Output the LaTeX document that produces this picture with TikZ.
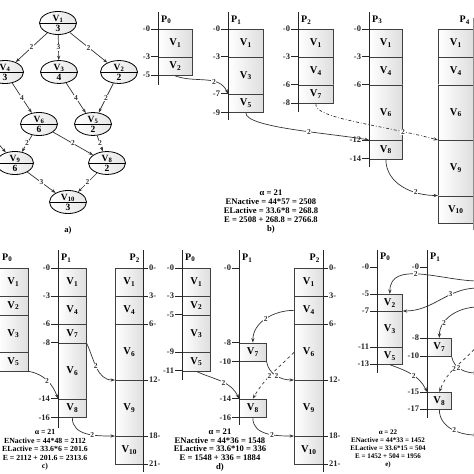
\documentclass[tikz,border=0pt]{standalone}
\usepackage{fontspec}
\setmainfont{Liberation Serif}
\usetikzlibrary{shapes.geometric,arrows.meta}

\begin{document}
\begin{tikzpicture}[x=1pt,y=1pt,>={Stealth[length=4.5pt,width=3.2pt]},
    slot/.style={draw=black!75,line width=0.7pt,left color=white,right color=black!13,inner sep=0pt,anchor=north west,font=\fontsize{10.5}{10.5}\bfseries\selectfont},
    task/.style={ellipse,draw,line width=0.8pt,left color=white,right color=black!10,minimum width=37pt,minimum height=21pt,inner sep=0pt,align=center,font=\fontsize{9.5}{10}\bfseries\selectfont,
        path picture={\draw[line width=0.6pt] (path picture bounding box.west) -- (path picture bounding box.east);}},
    axis/.style={line width=1pt,black!85},
    tick/.style={line width=0.8pt,black!85},
    tlbl/.style={font=\fontsize{8.5}{9}\bfseries\selectfont,inner sep=0.6pt},
    plbl/.style={font=\fontsize{10}{10}\bfseries\selectfont,inner sep=1pt},
    dep/.style={->,line width=0.7pt,black!80},
    wt/.style={font=\fontsize{7.5}{8}\bfseries\selectfont,fill=white,inner sep=0.6pt},
    note/.style={align=center,font=\fontsize{8.6}{8.8}\bfseries\selectfont}]

    \useasboundingbox (0,0) rectangle (474,-474);
    \clip (0,0) rectangle (474,-474);

    % a) task graph
    \node[task] (v1) at (58,-23) {V\textsubscript{1}\\3};
    \node[task] (v4) at (5,-72) {V\textsubscript{4}\\3};
    \node[task] (v3) at (59,-72) {V\textsubscript{3}\\4};
    \node[task] (v2) at (119,-72) {V\textsubscript{2}\\2};
    \node[task] (v6) at (39,-124) {V\textsubscript{6}\\6};
    \node[task] (v5) at (93,-124) {V\textsubscript{5}\\2};
    \node[task] (v9) at (15,-163) {V\textsubscript{9}\\6};
    \node[task] (v8) at (107,-163) {V\textsubscript{8}\\2};
    \node[task] (v10) at (68,-202) {V\textsubscript{10}\\3};
    \coordinate (v7) at (-24,-118);
    \node[note] (lbla) at (68,-230) {a)};

    \path[dep]
    (v1) edge node[wt] {2} (v4)
    (v1) edge node[wt] {3} (v3)
    (v1) edge node[wt] {2} (v2)
    (v4) edge node[wt] {4} (v6)
    (v4) edge (v7)
    (v7) edge (v9)
    (v3) edge node[wt] {4} (v5)
    (v2) edge node[wt] {2} (v5)
    (v6) edge node[wt] {2} (v9)
    (v6) edge node[wt] {2} (v8)
    (v5) edge node[wt] {2} (v8)
    (v9) edge node[wt] {3} (v10)
    (v8) edge node[wt] {2} (v10);

    % b) five processors
    \node[slot,minimum width=34pt,minimum height=27.75pt] (b0v1) at (158,-29) {V\textsubscript{1}};
    \node[slot,minimum width=34pt,minimum height=18.5pt] (b0v2) at (158,-56.75) {V\textsubscript{2}};
    \node[slot,minimum width=35pt,minimum height=27.75pt] (b1v1) at (228,-29) {V\textsubscript{1}};
    \node[slot,minimum width=35pt,minimum height=37pt] (b1v3) at (228,-56.75) {V\textsubscript{3}};
    \node[slot,minimum width=35pt,minimum height=18.5pt] (b1v5) at (228,-93.75) {V\textsubscript{5}};
    \node[slot,minimum width=35pt,minimum height=27.75pt] (b2v1) at (298,-29) {V\textsubscript{1}};
    \node[slot,minimum width=35pt,minimum height=27.75pt] (b2v4) at (298,-56.75) {V\textsubscript{4}};
    \node[slot,minimum width=35pt,minimum height=18.5pt] (b2v7) at (298,-84.5) {V\textsubscript{7}};
    \node[slot,minimum width=33pt,minimum height=27.75pt] (b3v1) at (369,-29) {V\textsubscript{1}};
    \node[slot,minimum width=33pt,minimum height=27.75pt] (b3v4) at (369,-56.75) {V\textsubscript{4}};
    \node[slot,minimum width=33pt,minimum height=55.5pt] (b3v6) at (369,-84.5) {V\textsubscript{6}};
    \node[slot,minimum width=33pt,minimum height=18.5pt] (b3v8) at (369,-140) {V\textsubscript{8}};
    \node[slot,minimum width=35pt,minimum height=27.75pt] (b4v1) at (438,-29) {V\textsubscript{1}};
    \node[slot,minimum width=35pt,minimum height=27.75pt] (b4v4) at (438,-56.75) {V\textsubscript{4}};
    \node[slot,minimum width=35pt,minimum height=55.5pt] (b4v6) at (438,-84.5) {V\textsubscript{6}};
    \node[slot,minimum width=35pt,minimum height=55.5pt] (b4v9) at (438,-140) {V\textsubscript{9}};
    \node[slot,minimum width=35pt,minimum height=27.75pt] (b4v10) at (438,-195.5) {V\textsubscript{10}};

    \draw[axis] (158,-12) -- (158,-85);
    \draw[axis] (228,-12) -- (228,-120);
    \draw[axis] (298,-12) -- (298,-112);
    \draw[axis] (369,-12) -- (369,-167);
    \draw[line width=2pt,black!45] (473.5,-18) -- (473.5,-230);
    \foreach \t/\y in {0/29,3/56.75,5/75.25}
        \draw[tick] (151,-\y) node[tlbl,left] {-\t} -- (158,-\y);
    \foreach \t/\y in {0/29,3/56.75,7/93.75,9/112.25}
        \draw[tick] (221,-\y) node[tlbl,left] {-\t} -- (228,-\y);
    \foreach \t/\y in {0/29,3/56.75,6/84.5,8/103}
        \draw[tick] (291,-\y) node[tlbl,left] {-\t} -- (298,-\y);
    \foreach \t/\y in {0/29,3/56.75,6/84.5,12/140,14/158.5}
        \draw[tick] (362,-\y) node[tlbl,left] {-\t} -- (369,-\y);
    \node[plbl,anchor=west] (bp0) at (160,-20) {P\textsubscript{0}};
    \node[plbl,anchor=west] (bp1) at (230,-20) {P\textsubscript{1}};
    \node[plbl,anchor=west] (bp2) at (300,-20) {P\textsubscript{2}};
    \node[plbl,anchor=west] (bp3) at (371,-20) {P\textsubscript{3}};
    \node[plbl,anchor=east] (bp4) at (471,-20) {P\textsubscript{4}};

    \path[dep]
    (b0v2.south) edge[out=-20,in=115] node[wt,pos=0.65] {2} (b1v5.north west)
    (b1v5.south) edge[out=-90,in=170,out looseness=0.3,in looseness=0.8] node[wt,pos=0.6] {2} (b3v8.north west)
    (b2v7.south) edge[dash dot,out=-100,in=165,out looseness=0.3,in looseness=1.2] node[wt,pos=0.8] {2} (b4v9.north west)
    (b3v8.south) edge[out=-90,in=180] node[wt,pos=0.7] {2} (b4v10.north west);

    \node[note] (bres) at (271,-211.5) {α = 21\\ENactive = 44*57 = 2508\\ELactive = 33.6*8 = 268.8\\E = 2508 + 268.8 = 2766.8\\b)};

    % c) three processors
    \node[slot,minimum width=30pt,minimum height=28pt] (c0v1) at (-2,-268) {V\textsubscript{1}};
    \node[slot,minimum width=30pt,minimum height=18.67pt] (c0v2) at (-2,-296) {V\textsubscript{2}};
    \node[slot,minimum width=30pt,minimum height=37.33pt] (c0v3) at (-2,-314.67) {V\textsubscript{3}};
    \node[slot,minimum width=30pt,minimum height=18.67pt] (c0v5) at (-2,-352) {V\textsubscript{5}};
    \node[slot,minimum width=28pt,minimum height=28pt] (c1v1) at (58,-268) {V\textsubscript{1}};
    \node[slot,minimum width=28pt,minimum height=28pt] (c1v4) at (58,-296) {V\textsubscript{4}};
    \node[slot,minimum width=28pt,minimum height=18.67pt] (c1v7) at (58,-324) {V\textsubscript{7}};
    \node[slot,minimum width=28pt,minimum height=56pt] (c1v6) at (58,-342.67) {V\textsubscript{6}};
    \node[slot,minimum width=28pt,minimum height=18.67pt] (c1v8) at (58,-398.67) {V\textsubscript{8}};
    \node[slot,minimum width=28pt,minimum height=28pt] (c2v1) at (115,-268) {V\textsubscript{1}};
    \node[slot,minimum width=28pt,minimum height=28pt] (c2v4) at (115,-296) {V\textsubscript{4}};
    \node[slot,minimum width=28pt,minimum height=56pt] (c2v6) at (115,-324) {V\textsubscript{6}};
    \node[slot,minimum width=28pt,minimum height=56pt] (c2v9) at (115,-380) {V\textsubscript{9}};
    \node[slot,minimum width=28pt,minimum height=28pt] (c2v10) at (115,-436) {V\textsubscript{10}};

    \draw[axis] (-2,-250) -- (-2,-400);
    \draw[axis] (58,-250) -- (58,-428);
    \draw[axis] (143,-250) -- (143,-472);
    \foreach \t/\y in {0/268,3/296,6/324,8/342.67,14/398.67,16/417.33}
        \draw[tick] (51,-\y) node[tlbl,left] {-\t} -- (58,-\y);
    \foreach \t/\y in {0/268,3/296,6/324,12/380,18/436,21/464}
        \draw[tick] (143,-\y) -- (148,-\y) node[tlbl,right] {\t-};
    \node[plbl,anchor=west] (cp0) at (1,-258) {P\textsubscript{0}};
    \node[plbl,anchor=west] (cp1) at (60,-258) {P\textsubscript{1}};
    \node[plbl,anchor=east] (cp2) at (141,-258) {P\textsubscript{2}};

    \path[dep]
    (c0v5.south east) edge[out=-10,in=110] node[wt,pos=0.5] {2} (c1v8.north west)
    (c1v7.south east) edge[out=-65,in=180] node[wt,pos=0.45] {2} (c2v9.north west)
    (c1v8.south) edge[out=-90,in=180] node[wt,pos=0.6] {2} (c2v10.north west);

    \node[note,font=\fontsize{7.8}{8.6}\bfseries\selectfont] (cres) at (45,-450) {α = 21\\ENactive = 44*48 = 2112\\ELactive = 33.6*6 = 201.6\\E = 2112 + 201.6 = 2313.6\\c)};

    % d) three processors, P1 idle in between
    \node[slot,minimum width=28pt,minimum height=28pt] (d0v1) at (182,-268) {V\textsubscript{1}};
    \node[slot,minimum width=28pt,minimum height=18.67pt] (d0v2) at (182,-296) {V\textsubscript{2}};
    \node[slot,minimum width=28pt,minimum height=37.33pt] (d0v3) at (182,-314.67) {V\textsubscript{3}};
    \node[slot,minimum width=28pt,minimum height=18.67pt] (d0v5) at (182,-352) {V\textsubscript{5}};
    \node[slot,minimum width=27pt,minimum height=18.67pt] (d1v7) at (239,-342.67) {V\textsubscript{7}};
    \node[slot,minimum width=27pt,minimum height=18.67pt] (d1v8) at (239,-398.67) {V\textsubscript{8}};
    \node[slot,minimum width=29pt,minimum height=28pt] (d2v1) at (294,-268) {V\textsubscript{1}};
    \node[slot,minimum width=29pt,minimum height=28pt] (d2v4) at (294,-296) {V\textsubscript{4}};
    \node[slot,minimum width=29pt,minimum height=56pt] (d2v6) at (294,-324) {V\textsubscript{6}};
    \node[slot,minimum width=29pt,minimum height=56pt] (d2v9) at (294,-380) {V\textsubscript{9}};
    \node[slot,minimum width=29pt,minimum height=28pt] (d2v10) at (294,-436) {V\textsubscript{10}};

    \draw[axis] (182,-250) -- (182,-380);
    \draw[axis] (239,-250) -- (239,-425);
    \draw[axis] (323,-250) -- (323,-472);
    \foreach \t/\y in {0/268,3/296,5/314.67,9/352,11/370.67}
        \draw[tick] (175,-\y) node[tlbl,left] {-\t} -- (182,-\y);
    \foreach \t/\y in {0/268,8/342.67,10/361.33,14/398.67,16/417.33}
        \draw[tick] (232,-\y) node[tlbl,left] {-\t} -- (239,-\y);
    \foreach \t/\y in {0/268,3/296,6/324,12/380,18/436,21/464}
        \draw[tick] (323,-\y) -- (328,-\y) node[tlbl,right] {\t-};
    \node[plbl,anchor=west] (dp0) at (184,-258) {P\textsubscript{0}};
    \node[plbl,anchor=west] (dp1) at (241,-258) {P\textsubscript{1}};
    \node[plbl,anchor=east] (dp2) at (321,-258) {P\textsubscript{2}};

    \path[dep]
    (d2v4.west) edge[out=180,in=90] node[wt,pos=0.5] {2} (d1v7.north)
    (d1v7.south east) edge[out=-80,in=180] node[wt,pos=0.5] {2} (d2v9.north west)
    (d2v6.west) edge[dashed,out=225,in=60] node[wt,pos=0.55] {2} (d1v8.north)
    (d0v5.south) edge[out=-25,in=115] node[wt,pos=0.55] {2} (d1v8.north west)
    (d1v8.south) edge[out=-90,in=180] node[wt,pos=0.6] {2} (d2v10.north west);

    \node[note] (dres) at (220,-450) {α = 21\\ENactive = 44*36 = 1548\\ELactive = 33.6*10 = 336\\E = 1548 + 336 = 1884\\d)};

    % e) cut at the right border
    \node[slot,minimum width=25pt,minimum height=17pt] (e0v2) at (377,-294) {V\textsubscript{2}};
    \node[slot,minimum width=25pt,minimum height=36pt] (e0v3) at (377,-311) {V\textsubscript{3}};
    \node[slot,minimum width=25pt,minimum height=17pt] (e0v5) at (377,-347) {V\textsubscript{5}};
    \node[slot,minimum width=24pt,minimum height=18pt] (e1v7) at (427,-338) {V\textsubscript{7}};
    \node[slot,minimum width=24pt,minimum height=17pt] (e1v8) at (427,-392) {V\textsubscript{8}};
    \coordinate (eR1) at (478,-281);
    \coordinate (eR2) at (478,-288);
    \coordinate (eR3) at (478,-307);
    \coordinate (eR4) at (478,-345);
    \coordinate (eR5) at (478,-373);
    \coordinate (eR6) at (478,-435);

    \draw[axis] (377,-250) -- (377,-373);
    \draw[axis] (427,-250) -- (427,-418);
    \foreach \t/\y in {0/267,5/294,7/311,11/347,13/364}
        \draw[tick] (370,-\y) node[tlbl,left] {-\t} -- (377,-\y);
    \foreach \t/\y in {0/267,8/338,10/356,15/392,17/409}
        \draw[tick] (420,-\y) node[tlbl,left] {-\t} -- (427,-\y);
    \node[plbl,anchor=west] (ep0) at (379,-257) {P\textsubscript{0}};
    \node[plbl,anchor=west] (ep1) at (429,-257) {P\textsubscript{1}};

    \path[dep]
    (eR1) edge[out=180,in=90] node[wt,pos=0.55] {2} (e0v2.north)
    (eR2) edge[out=180,in=0] node[wt,pos=0.35] {3} (e0v3.north east)
    (eR3) edge[out=180,in=90] node[wt,pos=0.7] {2} (e1v7.north)
    (eR4) edge[dashed,out=230,in=70] node[wt,pos=0.55] {2} (e1v8.north)
    (e1v7.south east) edge[out=-80,in=180] node[wt,pos=0.4] {2} (eR5)
    (e0v5.south) edge[out=-20,in=115] node[wt,pos=0.55] {2} (e1v8.north west)
    (e1v8.south) edge[out=-90,in=180] node[wt,pos=0.55] {2} (eR6);

    \node[note,font=\fontsize{7}{7.8}\bfseries\selectfont] (eres) at (388,-449) {α = 22\\ENactive = 44*33 = 1452\\ELactive = 33.6*15 = 504\\E = 1452 + 504 = 1956\\e)};

\end{tikzpicture}
\end{document}
